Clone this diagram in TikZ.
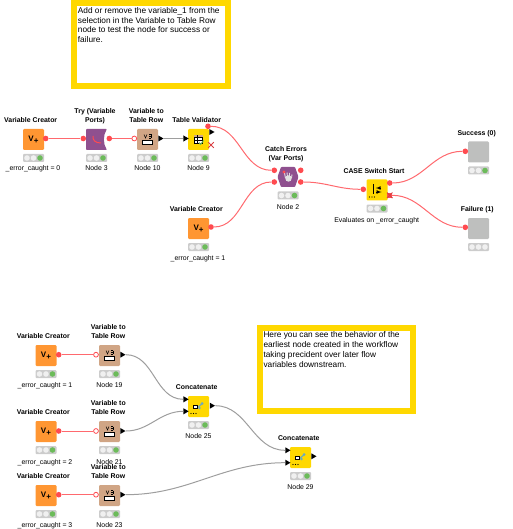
\documentclass[tikz,border=0pt]{standalone}
\usepackage{fontspec}
\setmainfont{Liberation Sans}
\usetikzlibrary{shapes.geometric, shapes.misc}
\definecolor{cOrange}{RGB}{255,150,50}
\definecolor{cTan}{RGB}{208,165,133}
\definecolor{cYellow}{RGB}{255,216,0}
\definecolor{cPurple}{RGB}{143,80,143}
\definecolor{cGrey}{RGB}{190,191,190}
\definecolor{cRed}{RGB}{255,75,80}
\definecolor{cWire}{RGB}{255,105,110}
\definecolor{cLink}{RGB}{158,158,158}
\definecolor{cTeal}{RGB}{110,170,190}
\definecolor{cGreen}{RGB}{108,187,90}
\tikzset{
    nodebox/.style={rectangle, rounded corners=1.2pt, minimum size=21, inner sep=0},
    vcbox/.style={nodebox, fill=cOrange, font=\fontsize{8}{8}\bfseries\selectfont},
    rowbox/.style={nodebox, fill=cTan},
    yellowbox/.style={nodebox, fill=cYellow},
    emptybox/.style={nodebox, fill=cGrey},
    nametag/.style={inner sep=0, align=center, anchor=south, text depth=1.5,
        font=\fontsize{6.9}{9}\bfseries\selectfont},
    nodetag/.style={inner sep=0, anchor=north, text height=5,
        font=\fontsize{6.9}{9}\selectfont},
    notebox/.style={rectangle, draw=cYellow, line width=6.3, fill=white, inner sep=0},
    notetext/.style={inner sep=0, anchor=north west, align=left,
        font=\fontsize{8.3}{9.8}\selectfont},
    lightbar/.style={rectangle, rounded corners=1pt, fill=black!20, minimum width=21, minimum height=8, inner sep=0},
    lamp/.style={circle, fill=black!6, minimum size=5.6, inner sep=0},
    lampon/.style={lamp, fill=cGreen},
    flowport/.style={circle, fill=cRed, minimum size=5.6, inner sep=0},
    flowopen/.style={circle, draw=cRed, fill=white, line width=0.8, minimum size=4.8, inner sep=0},
    dataport/.style={regular polygon, regular polygon sides=3, shape border rotate=-90,
        fill=black, minimum size=7, inner sep=0},
    failport/.style={cross out, draw=cRed!85!black, line width=1, minimum size=4.5, inner sep=0},
    flowwire/.style={draw=cWire, line width=1},
    datawire/.style={draw=cLink, line width=1},
    pics/rowicon/.style={code={
        \draw[line width=0.5] (-3.5,-5) -- (-2,-1.5) -- (-0.5,-5);
        \draw[line width=0.5] (1.5,-5) -- (3.5,-5) (3.5,-5) -- (3.5,-1.5) (1.5,-3.2) -- (3.5,-3.2) (1.5,-1.5) -- (3.5,-1.5);
        \draw[fill=white, line width=0.5] (-5,0.5) rectangle (5,4.5);
    }},
    pics/validicon/.style={code={
        \draw[fill=white, line width=0.5] (-4.5,-4.5) rectangle (4,3.5);
        \fill[cTan] (-4.5,-4.5) rectangle (4,-2);
        \draw[line width=0.35] (-4.5,-2) -- (4,-2) (-4.5,0.7) -- (4,0.7) (-1.5,-4.5) -- (-1.5,3.5);
        \draw[cGreen, line width=0.9] (0.5,3) -- (2,5) -- (5,1);
    }},
    pics/concaticon/.style={code={
        \draw[cTeal, line width=1.1] (-1,1) -- (4,-3);
        \fill[cTeal] (3.5,-3) circle (1.5) (1,1.5) circle (1.3);
        \draw[fill=white, line width=0.4] (-5,-1.5) rectangle (-1,1.3);
        \fill (-7.5,7) circle (0.55) (-5,7) circle (0.55) (-2.5,7) circle (0.55);
    }},
    pics/caseicon/.style={code={
        \draw[line width=0.7] (-3.5,-6) -- (-3.5,4);
        \draw[line width=0.7, -latex] (4,-2) -- (-1.2,-2);
        \draw[line width=0.7, -latex] (-1.2,2) -- (4.5,2);
        \fill (-7.5,7) circle (0.55) (-5,7) circle (0.55) (-2.5,7) circle (0.55);
    }},
}

\begin{document}
\begin{tikzpicture}[x=1pt, y=-1pt]
    \useasboundingbox (0,0) rectangle (512,529);

    % Yellow annotation boxes
    \node[notebox, minimum width=153.5, minimum height=82.5] (noteTop) at (151,44.5) {};
    \node[notetext] (noteTopText) at (77.7,7) {Add or remove the variable\_1 from the\\selection in the Variable to Table Row\\node to test the node for success or\\failure.};
    \node[notebox, minimum width=153, minimum height=82.5] (noteBottom) at (336.2,369.5) {};
    \node[notetext] (noteBottomText) at (263.3,331.5) {Here you can see the behavior of the\\earliest node created in the workflow\\taking precident over later flow\\variables downstream.};

    % Upper workflow: boxes
    \node[vcbox] (creatorA) at (33.5,139.5) {V\raisebox{-1.5pt}{+}};
    \node[nodebox] (tryPorts) at (96.5,139.5) {};
    \fill[cPurple, rounded corners=0.8pt] (86,129) -- (107,129) .. controls (103,135) and (103,144) .. (107,150) -- (86,150) -- cycle;
    \draw[cRed, line width=1] (93,136) .. controls (92.5,140) and (95,143) .. (101,143);
    \node[rowbox] (rowA) at (147.5,139.5) {};
    \pic at (rowA) {rowicon};
    \node[yellowbox] (validator) at (198.5,139.5) {};
    \pic at (validator) {validicon};
    \node[vcbox] (creatorB) at (198.5,228.5) {V\raisebox{-1.5pt}{+}};
    \node[nodebox] (catchErrors) at (288,177) {};
    \fill[cPurple, rounded corners=0.8pt] (281,167) -- (295,167) -- (298.5,177) -- (295,187) -- (281,187) -- (277.5,177) -- cycle;
    \fill[black!12] (288.5,178.5) circle (3.2);
    \draw[black!12, line width=0.9] (285.5,178) -- (284.5,173) (287.5,177) -- (287,172.5) (289.5,177) -- (289.5,173) (291.5,178) -- (292,174.5);
    \fill[cRed] (284,172) circle (1.6);
    \node[yellowbox] (caseSwitch) at (377,190) {};
    \pic at (caseSwitch) {caseicon};
    \node[emptybox] (success) at (478.5,152) {};
    \node[emptybox] (failure) at (478.5,228.5) {};

    % Upper workflow: ports
    \node[flowport] (creatorAout) at (45.7,138.5) {};
    \node[flowport] (tryIn) at (83.3,138.5) {};
    \node[flowport] (tryOut) at (109.3,138.5) {};
    \node[flowopen] (rowAin) at (134.3,138.5) {};
    \node[dataport] (rowAout) at (160,138.5) {};
    \node[dataport] (validatorIn) at (185.2,138.5) {};
    \node[flowport] (validatorFlow) at (208,126.3) {};
    \node[dataport] (validatorOut) at (211,132) {};
    \node[failport] (validatorFail) at (211,145) {};
    \node[flowport] (creatorBout) at (211,227) {};
    \node[flowport] (catchInA) at (274.3,170.3) {};
    \node[flowport] (catchInB) at (274.3,182) {};
    \node[flowport] (catchOutA) at (300.7,170.3) {};
    \node[flowport] (catchOutB) at (300.7,182) {};
    \node[flowport] (caseIn) at (363.3,189.3) {};
    \node[flowport] (caseOutA) at (389.7,183) {};
    \node[flowport, rectangle, minimum size=4.5] (caseOutB) at (389.7,195.3) {};
    \node[failport] (caseFail) at (389.7,195.3) {};
    \node[flowport] (successIn) at (465.3,151.3) {};
    \node[flowport] (failureIn) at (465.3,227.3) {};

    % Upper workflow: connections
    \draw[flowwire] (creatorAout) -- (tryIn);
    \draw[flowwire] (tryOut) -- (rowAin);
    \draw[datawire] (rowAout) -- (validatorIn);
    \draw[flowwire] (validatorFlow) to[out=0, in=180] (catchInA);
    \draw[flowwire] (creatorBout) to[out=0, in=180] (catchInB);
    \draw[flowwire] (catchOutB) to[out=0, in=180] (caseIn);
    \draw[flowwire] (caseOutA) to[out=0, in=180] (successIn);
    \draw[flowwire] (caseOutB) to[out=0, in=180] (failureIn);

    % Upper workflow: labels
    \node[nametag] (creatorAname) at (30.7,124.5) {Variable Creator};
    \node[nametag] (tryName) at (95,124.5) {Try (Variable\\Ports)};
    \node[nametag] (rowAname) at (146.3,124.5) {Variable to\\Table Row};
    \node[nametag] (validatorName) at (196.7,124.5) {Table Validator};
    \node[nametag] (creatorBname) at (196.3,213.5) {Variable Creator};
    \node[nametag] (catchName) at (286,162) {Catch Errors\\(Var Ports)};
    \node[nametag] (caseName) at (374,175) {CASE Switch Start};
    \node[nametag] (successName) at (476.7,137) {Success (0)};
    \node[nametag] (failureName) at (477.3,213.5) {Failure (1)};
    \node[nodetag] (creatorAtag) at (33,165.8) {\_error\_caught = 0};
    \node[nodetag] (tryTag) at (96.5,165.8) {Node 3};
    \node[nodetag] (rowAtag) at (147.5,165.8) {Node 10};
    \node[nodetag] (validatorTag) at (198.5,165.8) {Node 9};
    \node[nodetag] (creatorBtag) at (198,254.8) {\_error\_caught = 1};
    \node[nodetag] (catchTag) at (288,204.3) {Node 2};
    \node[nodetag] (caseTag) at (376.7,217.2) {Evaluates on \_error\_caught};

    % Lower workflow: boxes
    \node[vcbox] (creatorC) at (46,355.5) {V\raisebox{-1.5pt}{+}};
    \node[vcbox] (creatorD) at (46,431.5) {V\raisebox{-1.5pt}{+}};
    \node[vcbox] (creatorE) at (46,495.5) {V\raisebox{-1.5pt}{+}};
    \node[rowbox] (rowB) at (109.5,355.5) {};
    \node[rowbox] (rowC) at (109.5,431.5) {};
    \node[rowbox] (rowD) at (109.5,495.5) {};
    \pic at (rowB) {rowicon};
    \pic at (rowC) {rowicon};
    \pic at (rowD) {rowicon};
    \node[yellowbox] (concatA) at (198.5,406.5) {};
    \node[yellowbox] (concatB) at (300.5,457.5) {};
    \pic at (concatA) {concaticon};
    \pic at (concatB) {concaticon};

    % Lower workflow: ports
    \node[flowport] (creatorCout) at (58.7,354.7) {};
    \node[flowport] (creatorDout) at (58.7,431) {};
    \node[flowport] (creatorEout) at (58.7,494.7) {};
    \node[flowopen] (rowBin) at (96,354.7) {};
    \node[flowopen] (rowCin) at (96,431) {};
    \node[flowopen] (rowDin) at (96,494.7) {};
    \node[dataport] (rowBout) at (122,354.7) {};
    \node[dataport] (rowCout) at (122,431) {};
    \node[dataport] (rowDout) at (122,494.7) {};
    \node[dataport] (concatAinA) at (185.2,399.3) {};
    \node[dataport] (concatAinB) at (185.2,411.3) {};
    \node[dataport] (concatAout) at (211.5,405.7) {};
    \node[dataport] (concatBinA) at (287,450.3) {};
    \node[dataport] (concatBinB) at (287,462.7) {};
    \node[dataport] (concatBout) at (313,456.3) {};

    % Lower workflow: connections
    \draw[flowwire] (creatorCout) -- (rowBin);
    \draw[flowwire] (creatorDout) -- (rowCin);
    \draw[flowwire] (creatorEout) -- (rowDin);
    \draw[datawire] (rowBout) to[out=0, in=180] (concatAinA);
    \draw[datawire] (rowCout) to[out=0, in=180] (concatAinB);
    \draw[datawire] (rowDout) to[out=0, in=180] (concatBinB);
    \draw[datawire] (concatAout) to[out=0, in=180] (concatBinA);

    % Lower workflow: labels
    \node[nametag] (creatorCname) at (43.3,340.5) {Variable Creator};
    \node[nametag] (creatorDname) at (43.3,416.5) {Variable Creator};
    \node[nametag] (creatorEname) at (43.3,480.5) {Variable Creator};
    \node[nametag] (rowBname) at (108.3,340.5) {Variable to\\Table Row};
    \node[nametag] (rowCname) at (108.3,416.5) {Variable to\\Table Row};
    \node[nametag] (rowDname) at (108.3,480.5) {Variable to\\Table Row};
    \node[nametag] (concatAname) at (196.7,391.5) {Concatenate};
    \node[nametag] (concatBname) at (298.7,442.5) {Concatenate};
    \node[nodetag] (creatorCtag) at (45,381.8) {\_error\_caught = 1};
    \node[nodetag] (creatorDtag) at (45,458.8) {\_error\_caught = 2};
    \node[nodetag] (creatorEtag) at (45,521.8) {\_error\_caught = 3};
    \node[nodetag] (rowBtag) at (109.5,381.8) {Node 19};
    \node[nodetag] (rowCtag) at (109.5,458.8) {Node 21};
    \node[nodetag] (rowDtag) at (109.5,521.8) {Node 23};
    \node[nodetag] (concatAtag) at (198.5,432.8) {Node 25};
    \node[nodetag] (concatBtag) at (300.5,483.8) {Node 29};

    % Status lights
    \foreach \bar/\lx/\ly in {creatorA/33.5/158, tryPorts/96.5/158, rowA/147.5/158, validator/198.5/158,
        creatorB/198.5/247, catchErrors/288/195.5, caseSwitch/377/208.5, success/478.5/170.5,
        creatorC/46/374, creatorD/46/450, creatorE/46/514, rowB/109.5/374, rowC/109.5/450, rowD/109.5/514,
        concatA/198.5/425, concatB/300.5/476}
    {
        \node[lightbar] (\bar Light) at (\lx,\ly) {};
        \node[lamp] (\bar LampA) at (\lx-6.5,\ly) {};
        \node[lamp] (\bar LampB) at (\lx,\ly) {};
        \node[lampon] (\bar LampC) at (\lx+6.5,\ly) {};
    }
    \node[lightbar] (failureLight) at (478.5,247) {};
    \node[lamp] (failureLampA) at (472,247) {};
    \node[lamp] (failureLampB) at (478.5,247) {};
    \node[lamp] (failureLampC) at (485,247) {};
\end{tikzpicture}
\end{document}
